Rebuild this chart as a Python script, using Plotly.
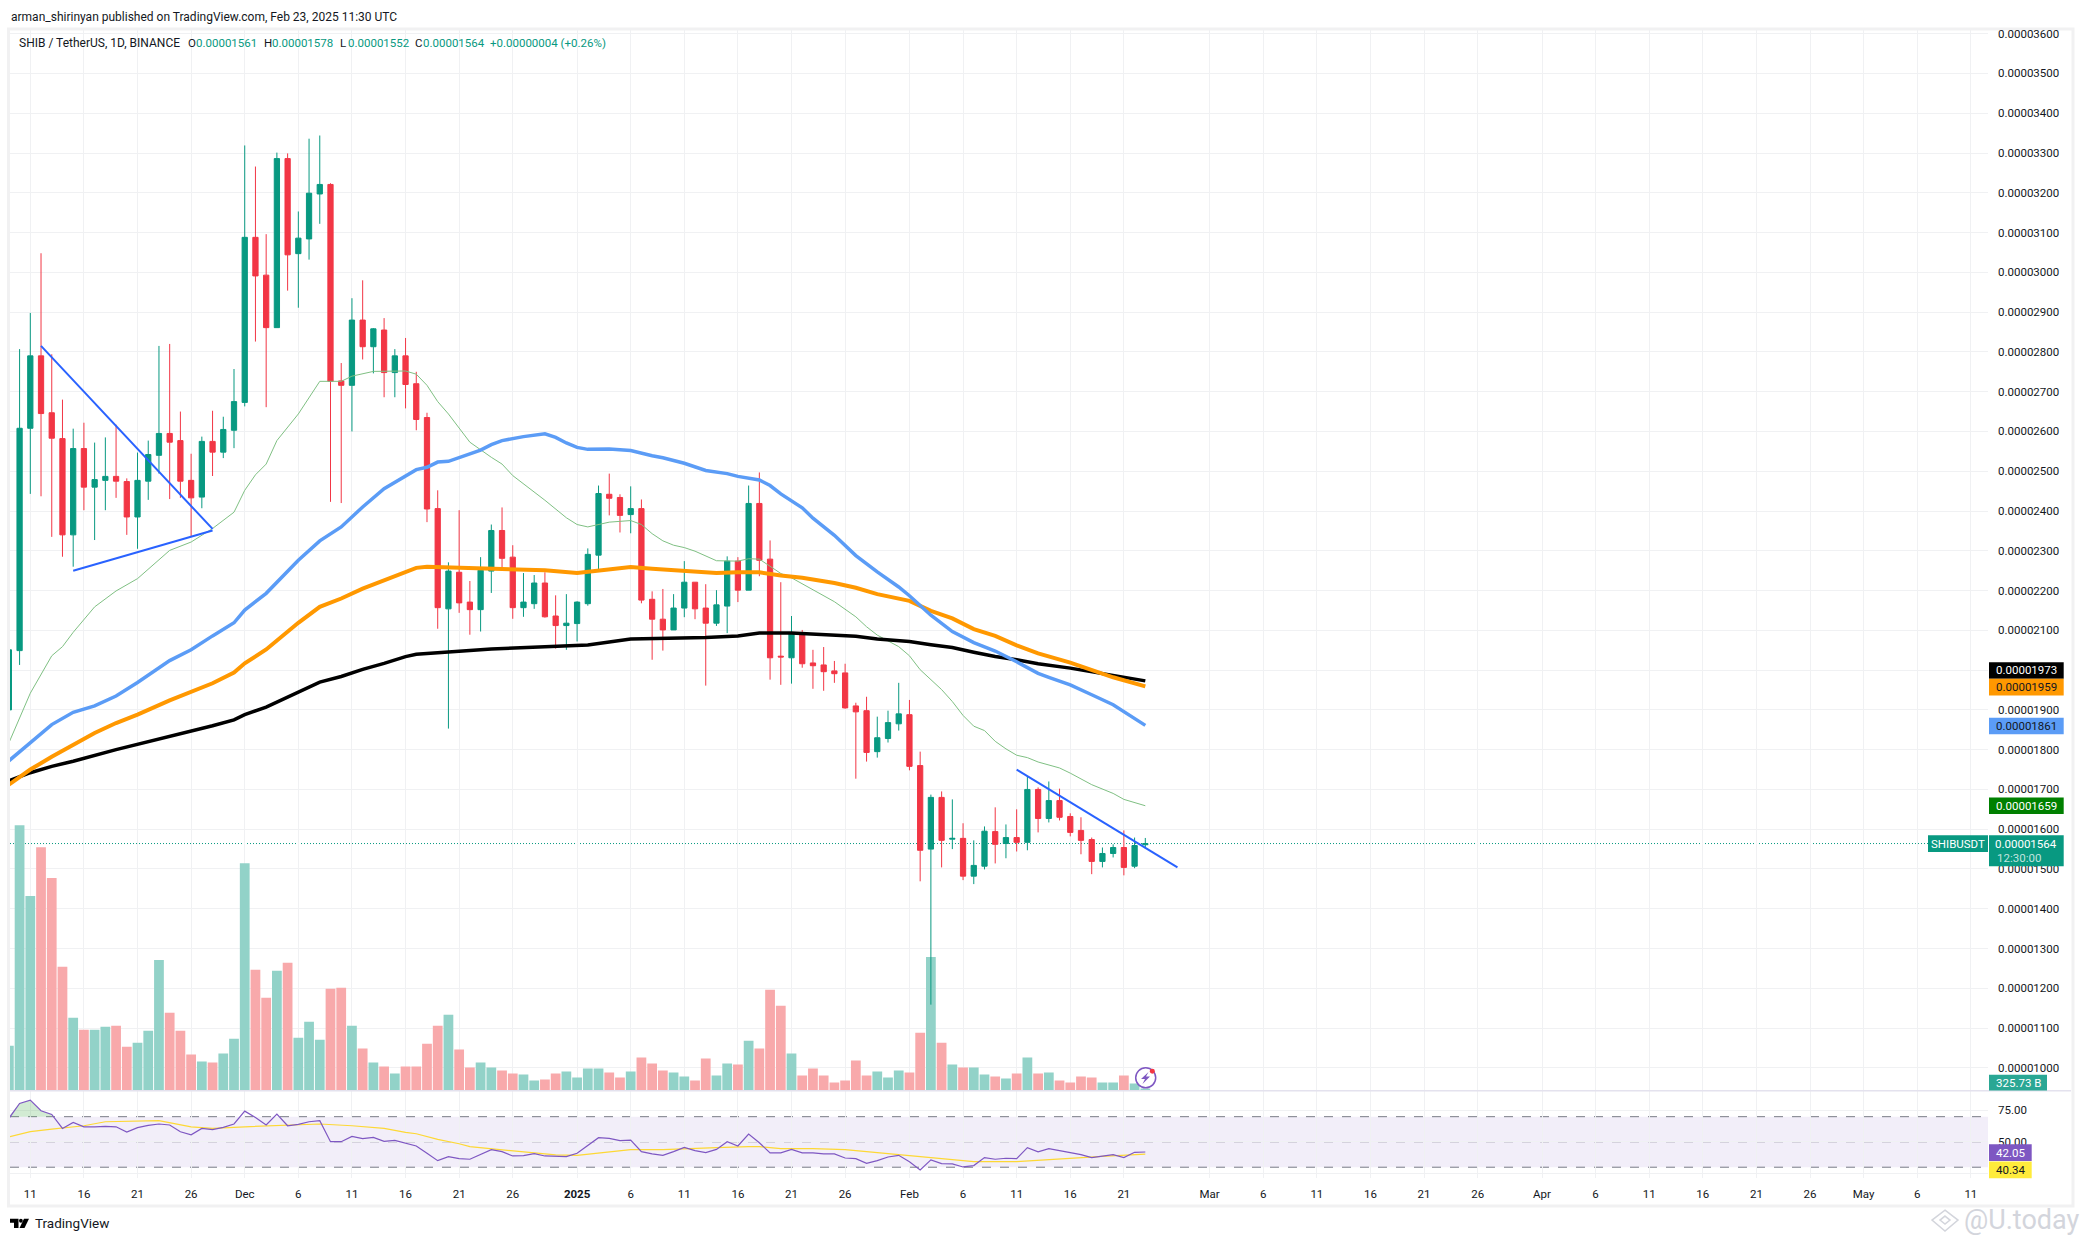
import pandas as pd
import plotly.graph_objects as go

W = 2084
H = 1243

# daily bars, 2024-11-09 .. 2025-02-23, prices in 1e-8 USDT
opens = [
    1900, 2049, 2608, 2790, 2647, 2582, 2340, 2557, 2460, 2477, 2487, 2474, 2385, 2475, 2540, 2595, 2577, 2477, 2435, 2575, 2548, 2603,
    2673, 3088, 2993, 2861, 3286, 3047, 3084, 3197, 3221, 2727, 2716, 2880, 2813, 2855, 2748, 2790, 2720, 2635, 2406, 2154, 2246, 2171, 2152, 2249, 2351, 2284, 2157, 2167, 2219, 2136, 2112,
    2117, 2167, 2289, 2442, 2434, 2391, 2406, 2178, 2128, 2101, 2156, 2221, 2156, 2118, 2161, 2274, 2201, 2419, 2279, 2035, 2031, 2091, 2018, 2013, 1998, 1993, 1910, 1898, 1795, 1828, 1865,
    1888, 1760, 1550, 1680, 1575, 1577, 1482, 1507, 1594, 1564, 1579, 1567, 1700, 1627, 1672, 1632, 1597, 1574, 1519, 1539, 1554, 1507, 1561,
]
closes = [
    2051, 2608, 2790, 2645, 2583, 2340, 2557, 2460, 2479, 2487, 2475, 2385, 2477, 2542, 2595, 2573, 2475, 2433, 2575, 2548, 2605, 2675,
    3088, 2991, 2861, 3286, 3044, 3086, 3199, 3221, 2726, 2716, 2880, 2813, 2858, 2748, 2790, 2718, 2630, 2405, 2157, 2249, 2169, 2152, 2251, 2351, 2281, 2157, 2171, 2219, 2134, 2112, 2118,
    2171, 2291, 2444, 2432, 2389, 2406, 2176, 2128, 2101, 2156, 2221, 2154, 2118, 2164, 2274, 2201, 2419, 2276, 2031, 2033, 2091, 2016, 2011, 1996, 1991, 1905, 1895, 1793, 1830, 1868, 1890,
    1758, 1547, 1680, 1572, 1577, 1482, 1509, 1595, 1562, 1579, 1567, 1700, 1627, 1672, 1630, 1592, 1572, 1519, 1539, 1554, 1504, 1559, 1564,
]
highs = [
    2051, 2807, 2898, 3048, 2794, 2680, 2607, 2622, 2572, 2585, 2617, 2482, 2547, 2577, 2815, 2820, 2650, 2544, 2587, 2652, 2637, 2757,
    3319, 3266, 3096, 3301, 3299, 3153, 3336, 3344, 3224, 2772, 2935, 2980, 2860, 2885, 2807, 2835, 2750, 2647, 2452, 2271, 2402, 2224, 2284, 2366, 2409, 2314, 2244, 2239, 2246, 2188, 2191,
    2173, 2306, 2464, 2494, 2442, 2462, 2429, 2198, 2204, 2191, 2274, 2221, 2216, 2201, 2286, 2284, 2464, 2497, 2326, 2221, 2136, 2101, 2051, 2058, 2023, 2016, 1918, 1933, 1883, 1898, 1968,
    1925, 1795, 1687, 1695, 1675, 1615, 1572, 1607, 1655, 1612, 1650, 1732, 1705, 1720, 1702, 1640, 1630, 1579, 1554, 1562, 1597, 1579, 1578,
]
lows = [
    1900, 2013, 2443, 2437, 2335, 2285, 2260, 2402, 2327, 2402, 2433, 2340, 2305, 2428, 2494, 2430, 2433, 2335, 2407, 2488, 2533, 2558,
    2663, 2826, 2661, 2861, 2954, 2911, 3032, 3122, 2423, 2420, 2600, 2781, 2746, 2686, 2686, 2658, 2603, 2372, 2104, 1853, 2144, 2089, 2097, 2194, 2259, 2129, 2134, 2154, 2132, 2054, 2051,
    2072, 2162, 2249, 2389, 2346, 2344, 2168, 2026, 2049, 2101, 2133, 2128, 1961, 2111, 2093, 2171, 2201, 2236, 1976, 1963, 1966, 2006, 1953, 1948, 1968, 1903, 1727, 1770, 1780, 1818, 1848,
    1748, 1469, 1159, 1504, 1550, 1472, 1462, 1499, 1514, 1527, 1544, 1547, 1592, 1617, 1622, 1582, 1537, 1487, 1504, 1529, 1484, 1502, 1552,
]
# volume in trillions of SHIB
volume = [
    6.34, 37.28, 27.34, 34.20, 29.86, 17.40, 10.26, 8.58, 8.58, 9.00, 9.14, 6.20, 6.76, 8.44, 18.38, 10.96, 8.44, 5.08, 4.10, 3.96, 5.22, 7.32,
    31.96, 16.98, 13.06, 16.84, 17.96, 7.46, 9.70, 7.18, 14.32, 14.46, 9.14, 5.92, 3.96, 3.40, 2.42, 3.40, 3.40, 6.62, 9.14, 10.68, 5.78, 3.26, 3.96, 3.26, 2.84, 2.42, 2.28, 1.44, 1.58, 2.42, 2.70,
    1.86, 3.12, 3.12, 2.56, 1.86, 2.70, 4.66, 3.82, 2.84, 2.56, 2.00, 1.44, 4.52, 2.14, 3.82, 3.68, 7.04, 5.92, 14.18, 11.94, 5.22, 2.14, 3.12, 2.14, 1.16, 1.44, 4.24, 2.14,
    2.70, 1.86, 2.84, 2.56, 8.16, 18.80, 6.76, 3.68, 3.26, 3.26, 2.28, 2.00, 1.72, 2.42, 4.66, 2.42, 2.56, 1.44, 1.16, 2.00, 1.86, 1.16, 1.16, 2.14, 1.02, 0.326,
]
rsi = [
    68.6, 80.5, 83.1, 74.7, 71.8, 60.7, 65.5, 62.0, 62.0, 62.3, 62.0, 57.8, 61.3, 63.1, 64.2, 63.4, 58.1, 55.7, 60.7, 59.7, 61.5, 64.2,
    74.4, 69.4, 63.4, 72.0, 62.8, 63.9, 66.0, 66.8, 50.2, 50.2, 54.4, 52.6, 53.6, 50.5, 51.3, 49.2, 46.8, 41.0, 35.2, 38.4, 36.8, 36.3, 40.2, 43.9, 42.3, 38.9, 39.2, 40.7, 38.9, 38.4, 38.4,
    41.0, 47.0, 53.4, 52.8, 51.0, 51.5, 42.3, 40.5, 39.4, 42.3, 45.7, 43.1, 41.5, 44.1, 50.2, 46.8, 56.3, 49.4, 41.3, 41.3, 44.1, 41.3, 41.3, 40.5, 40.5, 37.3, 36.8, 33.1,
    35.2, 38.1, 39.4, 34.4, 27.9, 35.8, 32.9, 32.6, 30.2, 31.3, 37.6, 36.3, 37.1, 36.8, 45.5, 42.1, 44.7, 43.1, 41.5, 39.9, 37.6, 38.9, 39.9, 37.6, 41.8, 42.05,
]

# moving averages, read at the bar numbers listed next to them
ma_green_idx = [0, 2, 4, 5, 6, 8, 10, 12, 15, 17, 19, 21, 22, 23, 24, 25, 27, 29, 30, 31, 32, 34, 37, 38, 39, 40, 41, 43, 45, 46, 47, 49, 50, 52, 53, 54, 55, 56, 58, 59, 60, 61, 62, 63, 64, 65, 66, 68, 69, 70, 71, 72, 73, 75, 77, 79, 80, 81, 83, 84, 85, 87, 88, 89, 90, 91, 92, 93, 94, 95, 96, 98, 99, 101, 103, 104, 106]
ma_green = [1817, 1942, 2036, 2059, 2095, 2159, 2199, 2230, 2301, 2322, 2356, 2397, 2452, 2491, 2518, 2577, 2644, 2726, 2726, 2726, 2739, 2751, 2752, 2744, 2716, 2675, 2644, 2573, 2535, 2518, 2489, 2449, 2427, 2383, 2366, 2360, 2366, 2372, 2376, 2366, 2343, 2325, 2314, 2308, 2299, 2286, 2275, 2274, 2280, 2279, 2260, 2243, 2232, 2201, 2172, 2134, 2109, 2088, 2059, 2036, 2001, 1951, 1921, 1886, 1859, 1848, 1821, 1802, 1786, 1780, 1769, 1754, 1741, 1712, 1690, 1675, 1659]
ma_blue_idx = [0, 2, 4, 6, 8, 10, 12, 15, 17, 19, 21, 22, 24, 27, 29, 31, 33, 35, 37, 38, 39, 40, 41, 42, 44, 45, 46, 48, 50, 51, 52, 53, 54, 56, 58, 60, 61, 63, 65, 67, 68, 70, 71, 72, 74, 75, 77, 79, 81, 83, 84, 86, 88, 90, 92, 94, 96, 97, 99, 101, 103, 106]
ma_blue = [1772, 1818, 1863, 1894, 1910, 1935, 1969, 2024, 2051, 2086, 2119, 2151, 2193, 2276, 2325, 2360, 2410, 2456, 2489, 2504, 2510, 2523, 2525, 2535, 2553, 2567, 2577, 2587, 2594, 2585, 2571, 2560, 2555, 2556, 2552, 2539, 2534, 2520, 2502, 2494, 2487, 2478, 2464, 2443, 2408, 2382, 2339, 2288, 2247, 2209, 2187, 2138, 2097, 2069, 2048, 2021, 1992, 1982, 1963, 1938, 1913, 1861]
ma_orange_idx = [0, 2, 4, 6, 8, 10, 12, 15, 17, 19, 21, 22, 24, 27, 29, 31, 33, 35, 37, 38, 39, 42, 44, 47, 50, 53, 55, 58, 60, 63, 66, 68, 70, 72, 74, 77, 79, 81, 84, 86, 88, 90, 92, 94, 96, 99, 101, 103, 106]
ma_orange = [1712, 1750, 1782, 1813, 1842, 1867, 1888, 1924, 1945, 1967, 1994, 2017, 2052, 2119, 2159, 2180, 2205, 2226, 2247, 2257, 2260, 2258, 2255, 2255, 2251, 2244, 2249, 2259, 2255, 2250, 2244, 2246, 2246, 2238, 2232, 2219, 2207, 2191, 2174, 2149, 2130, 2103, 2086, 2062, 2042, 2019, 2001, 1982, 1959]
ma_black_idx = [0, 2, 4, 6, 10, 12, 15, 17, 19, 21, 22, 24, 27, 29, 31, 33, 35, 37, 38, 42, 45, 50, 53, 54, 58, 61, 65, 68, 70, 73, 77, 79, 81, 84, 86, 88, 90, 92, 94, 96, 99, 103, 106]
ma_black = [1722, 1742, 1758, 1771, 1800, 1813, 1833, 1846, 1860, 1875, 1888, 1907, 1946, 1970, 1984, 2002, 2017, 2034, 2040, 2047, 2053, 2059, 2062, 2063, 2078, 2079, 2082, 2086, 2093, 2093, 2089, 2085, 2078, 2072, 2064, 2057, 2045, 2034, 2026, 2016, 2005, 1986, 1973]
rsi_ma_idx = [0, 2, 4, 7, 9, 11, 14, 17, 19, 22, 24, 26, 29, 32, 35, 37, 38, 40, 42, 43, 45, 47, 49, 51, 53, 55, 58, 61, 63, 66, 69, 70, 72, 75, 78, 81, 84, 87, 90, 94, 97, 99, 102, 106]
rsi_ma = [53.9, 58.1, 60.2, 62.8, 66.0, 66.5, 66.8, 62.0, 60.7, 62.0, 62.6, 63.6, 64.2, 62.8, 60.7, 57.6, 56.5, 52.0, 48.6, 46.3, 44.7, 43.1, 41.3, 39.7, 39.4, 41.0, 43.9, 43.9, 44.7, 45.5, 46.3, 46.3, 44.7, 44.7, 43.9, 41.5, 38.9, 36.8, 34.4, 34.4, 36.0, 37.6, 38.6, 40.34]

# drawn trendlines
trend_down_x = ["2024-11-12", "2024-11-28"]
trend_down_y = [2815, 2355]
trend_up_x = ["2024-11-15", "2024-11-28"]
trend_up_y = [2250, 2351]
trend_feb_x = ["2025-02-11", "2025-02-26"]
trend_feb_y = [1750, 1504]

price_ticks = list(range(1000, 3700, 100))
rsi_ticks = [25, 50, 75]
date_ticks = [
    "2024-11-11", "2024-11-16", "2024-11-21", "2024-11-26", "2024-12-01", "2024-12-06", "2024-12-11", "2024-12-16", "2024-12-21", "2024-12-26",
    "2025-01-01", "2025-01-06", "2025-01-11", "2025-01-16", "2025-01-21", "2025-01-26", "2025-02-01", "2025-02-06", "2025-02-11", "2025-02-16", "2025-02-21",
    "2025-03-01", "2025-03-06", "2025-03-11", "2025-03-16", "2025-03-21", "2025-03-26", "2025-04-01", "2025-04-06", "2025-04-11", "2025-04-16", "2025-04-21", "2025-04-26",
    "2025-05-01", "2025-05-06", "2025-05-11",
]
date_labels = [
    "11", "16", "21", "26", "Dec", "6", "11", "16", "21", "26",
    "<b>2025</b>", "6", "11", "16", "21", "26", "Feb", "6", "11", "16", "21",
    "Mar", "6", "11", "16", "21", "26", "Apr", "6", "11", "16", "21", "26",
    "May", "6", "11",
]

UP = "#089981"
DOWN = "#f23645"
TEXT = "#131722"
GRID = "#f0f1f3"
FONT = "Roboto"

dates = pd.date_range("2024-11-09", periods=len(opens))


def sat(values):
    return [v * 1e-8 for v in values]


def xp(px):
    return px / W


def yp(px):
    return 1 - px / H


def path(points):
    return "M" + " L".join(f"{xp(a)},{yp(b)}" for a, b in points) + " Z"


fig = go.Figure()

vol_colors = ["#92d2c8" if c >= o else "#f8a9ab" for o, c in zip(opens, closes)]
fig.add_trace(go.Bar(x=dates, y=volume, marker_color=vol_colors, marker_line_width=0, xaxis="x", yaxis="y"))

for idx, vals, color, width in [
    (ma_green_idx, ma_green, "#7fc083", 1),
    (ma_black_idx, ma_black, "#000000", 3.5),
    (ma_orange_idx, ma_orange, "#ff9800", 4),
    (ma_blue_idx, ma_blue, "#5b9cf6", 3.5),
]:
    fig.add_trace(
        go.Scatter(x=dates[idx], y=sat(vals), mode="lines", line=dict(color=color, width=width), xaxis="x", yaxis="y2")
    )

fig.add_trace(
    go.Candlestick(
        x=dates,
        open=sat(opens),
        high=sat(highs),
        low=sat(lows),
        close=sat(closes),
        increasing=dict(line=dict(color=UP, width=1), fillcolor=UP),
        decreasing=dict(line=dict(color=DOWN, width=1), fillcolor=DOWN),
        whiskerwidth=0,
        xaxis="x",
        yaxis="y2",
    )
)

for tx, ty in [(trend_down_x, trend_down_y), (trend_up_x, trend_up_y), (trend_feb_x, trend_feb_y)]:
    fig.add_trace(
        go.Scatter(x=tx, y=sat(ty), mode="lines", line=dict(color="#2962ff", width=2), xaxis="x", yaxis="y2")
    )

# RSI pane, the shaded part above 70 goes first
fig.add_trace(go.Scatter(x=dates[:5], y=[70] * 5, mode="lines", line=dict(width=0), xaxis="x2", yaxis="y3"))
fig.add_trace(
    go.Scatter(
        x=dates[:5],
        y=[max(v, 70) for v in rsi[:5]],
        mode="lines",
        line=dict(width=0),
        fill="tonexty",
        fillcolor="rgba(76,175,80,0.25)",
        xaxis="x2",
        yaxis="y3",
    )
)
fig.add_trace(go.Scatter(x=dates[rsi_ma_idx], y=rsi_ma, mode="lines", line=dict(color="#fdd835", width=1.2), xaxis="x2", yaxis="y3"))
fig.add_trace(go.Scatter(x=dates, y=rsi, mode="lines", line=dict(color="#7e57c2", width=1.2), xaxis="x2", yaxis="y3"))

shapes = [
    # frame of the chart
    dict(type="rect", xref="paper", yref="paper", x0=xp(8.5), x1=xp(2073), y0=yp(1208), y1=yp(27), line=dict(color="#f1f1f2", width=3), layer="below"),
    # RSI band
    dict(type="rect", xref="x2 domain", yref="y3", x0=0, x1=1, y0=30, y1=70, fillcolor="rgba(126,87,194,0.1)", line_width=0, layer="below"),
    dict(type="line", xref="x2 domain", yref="y3", x0=0, x1=1, y0=70, y1=70, line=dict(color="#787b86", width=1, dash="dash"), layer="below"),
    dict(type="line", xref="x2 domain", yref="y3", x0=0, x1=1, y0=50, y1=50, line=dict(color="#b0b0b8", width=1, dash="dash"), layer="below"),
    dict(type="line", xref="x2 domain", yref="y3", x0=0, x1=1, y0=30, y1=30, line=dict(color="#787b86", width=1, dash="dash"), layer="below"),
    # pane separator
    dict(type="line", xref="paper", yref="paper", x0=xp(10), x1=xp(2071), y0=yp(1092.3), y1=yp(1092.3), line=dict(color="#e4e2ee", width=1.5)),
    # last price
    dict(type="line", xref="x domain", yref="y2", x0=0, x1=1, y0=1564e-8, y1=1564e-8, line=dict(color=UP, width=1, dash="1px,2px"), layer="below"),
    # lightning badge
    dict(type="circle", xref="paper", yref="paper", x0=xp(1135.7), x1=xp(1155.7), y0=yp(1089.3), y1=yp(1069.3), fillcolor="rgba(255,255,255,0.75)", line=dict(color="#7e57c2", width=1.5)),
    dict(type="path", xref="paper", yref="paper", path=path([(1148.5, 1073.5), (1141, 1080.5), (1145, 1080.5), (1142.5, 1085.5), (1150, 1078), (1146, 1078)]), fillcolor="#7e57c2", line_width=0),
    dict(type="circle", xref="paper", yref="paper", x0=xp(1149.8), x1=xp(1154.8), y0=yp(1075.2), y1=yp(1070.2), fillcolor=DOWN, line_width=0),
    # TradingView logo
    dict(type="path", xref="paper", yref="paper", path=path([(10, 1220.7), (18.5, 1220.7), (18.5, 1230), (14, 1230), (14, 1224.8), (10, 1224.8)]), fillcolor="#000000", line_width=0),
    dict(type="circle", xref="paper", yref="paper", x0=xp(19), x1=xp(22.8), y0=yp(1224.6), y1=yp(1220.8), fillcolor="#000000", line_width=0),
    dict(type="path", xref="paper", yref="paper", path=path([(24, 1220.7), (29, 1220.7), (24.5, 1230), (19.5, 1230)]), fillcolor="#000000", line_width=0),
]
annotations = []


def text_at(x, y, text, size=11.5, color=TEXT, anchor="center"):
    annotations.append(
        dict(
            xref="paper",
            yref="paper",
            x=xp(x),
            y=yp(y),
            text=text,
            showarrow=False,
            xanchor=anchor,
            yanchor="middle",
            borderpad=0,
            font=dict(family=FONT, size=size, color=color),
        )
    )


def tag(x0, x1, y0, y1, color, text, text_color):
    shapes.append(dict(type="rect", xref="paper", yref="paper", x0=xp(x0), x1=xp(x1), y0=yp(y1), y1=yp(y0), fillcolor=color, line_width=0, layer="above"))
    if text:
        text_at((x0 + x1) / 2, (y0 + y1) / 2, text, color=text_color)


tag(1989, 2063.7, 662.3, 679, "#000000", "0.00001973", "#ffffff")
tag(1989, 2063.7, 679, 695.7, "#ff9800", "0.00001959", TEXT)
tag(1989, 2063.7, 718, 734.7, "#5b9cf6", "0.00001861", TEXT)
tag(1989, 2063.7, 798, 814.7, "#008000", "0.00001659", "#ffffff")
tag(1989, 2063.7, 836, 867, UP, "", "#ffffff")
text_at(2026.3, 844.4, "0.00001564", color="#ffffff")
text_at(2018.5, 858.5, "12:30:00", color="rgba(255,255,255,0.75)")
tag(1928, 1988, 836, 852.7, UP, "SHIBUSDT", "#ffffff")
tag(1989, 2047, 1076.3, 1092, "#2aa794", "325.73 B", "#ffffff")
tag(1989, 2031.7, 1146, 1162.7, "#7e57c2", "42.05", "#ffffff")
tag(1989, 2031.7, 1163.3, 1180, "#ffeb3b", "40.34", TEXT)

text_at(10, 15, "arman_shirinyan published on TradingView.com, Feb 23, 2025 11:30 UTC", size=12, anchor="left")
text_at(17.5, 41.5, "SHIB / TetherUS, 1D, BINANCE", size=12, anchor="left")
for x, letter, value in [(186.6, "O", "0.00001561"), (262.5, "H", "0.00001578"), (339, "L", "0.00001552"), (414, "C", "0.00001564")]:
    text_at(x, 41.5, letter, size=11.5, anchor="left")
    text_at(x + 8.2, 41.5, value, size=11.5, color=UP, anchor="left")
text_at(489, 41.5, "+0.00000004 (+0.26%)", size=11.5, color=UP, anchor="left")
text_at(33.7, 1225, "TradingView", size=13.5, anchor="left")

# U.today watermark
text_at(1963, 1222, "@U.today", size=27, color="#d3d5dc", anchor="left")
for pts in [
    [(1945, 1212), (1958, 1222), (1945, 1233), (1932, 1222)],
    [(1945, 1218), (1950, 1222), (1945, 1226), (1940, 1222)],
]:
    shapes.append(dict(type="path", xref="paper", yref="paper", path=path(pts), fillcolor="rgba(0,0,0,0)", line=dict(color="#d3d5dc", width=1.5)))

axis_font = dict(family=FONT, size=11.5, color=TEXT)
fig.update_layout(
    width=W,
    height=H,
    autosize=False,
    margin=dict(l=0, r=0, t=0, b=0),
    paper_bgcolor="#ffffff",
    plot_bgcolor="rgba(0,0,0,0)",
    showlegend=False,
    barmode="overlay",
    bargap=0.09,
    boxgap=0.3,
    shapes=shapes,
    annotations=annotations,
    xaxis=dict(
        domain=[xp(10), xp(1988)],
        type="date",
        range=["2024-11-09 02:33", "2025-05-12 14:24"],
        tickvals=date_ticks,
        showticklabels=False,
        showgrid=True,
        gridcolor=GRID,
        gridwidth=1,
        zeroline=False,
        showline=False,
        rangeslider=dict(visible=False),
        anchor="y",
    ),
    xaxis2=dict(
        domain=[xp(10), xp(1988)],
        type="date",
        range=["2024-11-09 02:33", "2025-05-12 14:24"],
        tickvals=date_ticks,
        ticktext=date_labels,
        tickangle=0,
        tickfont=axis_font,
        showgrid=True,
        gridcolor=GRID,
        gridwidth=1,
        zeroline=False,
        showline=False,
        ticks="",
        ticklabelstandoff=7,
        anchor="y3",
    ),
    yaxis=dict(
        domain=[yp(1092.3), yp(27)],
        range=[0, 149.1],
        visible=False,
        showgrid=False,
    ),
    yaxis2=dict(
        domain=[yp(1092.3), yp(27)],
        overlaying="y",
        anchor="x",
        side="right",
        range=[942.4e-8, 3612e-8],
        tickvals=sat(price_ticks),
        ticktext=[f"{v * 1e-8:.8f}" for v in price_ticks],
        tickfont=axis_font,
        showgrid=True,
        gridcolor=GRID,
        gridwidth=1,
        zeroline=False,
        showline=False,
        ticks="",
        ticklabelstandoff=9,
    ),
    yaxis3=dict(
        domain=[yp(1180), yp(1092.3)],
        anchor="x2",
        side="right",
        range=[21.3, 90.5],
        tickvals=rsi_ticks,
        ticktext=[f"{v:.2f}" for v in rsi_ticks],
        tickfont=axis_font,
        showgrid=True,
        gridcolor=GRID,
        gridwidth=1,
        zeroline=False,
        showline=False,
        ticks="",
        ticklabelstandoff=9,
    ),
)

fig.write_html("out.html", config=dict(displayModeBar=False), post_script="document.body.style.margin='0';")
